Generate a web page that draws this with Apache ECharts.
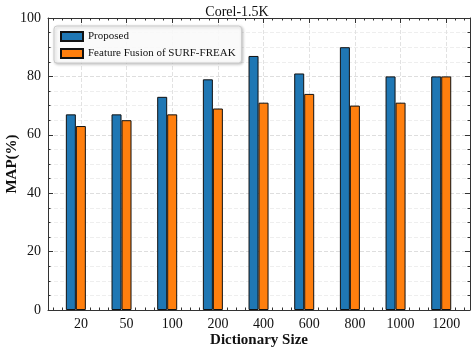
<!DOCTYPE html>
<html><head><meta charset="utf-8">
<script src="https://cdn.jsdelivr.net/npm/echarts@6/dist/echarts.min.js"></script>
<style>html,body{margin:0;padding:0;background:#fff}#c{width:474px;height:348px}</style>
</head><body><div id="c"></div>
<script>
const categories = ['20','50','100','200','400','600','800','1000','1200'];
const proposed = [67, 67, 73, 79, 87, 81, 90, 80, 80];
const surfFreak = [63, 65, 67, 69, 71, 74, 70, 71, 80];
const yTicks = [0, 20, 40, 60, 80, 100];

const FONT = 'Liberation Serif';
const X_MIN = -0.72, X_MAX = 8.52, SHIFT = -0.11;
const majors = categories.map((c, i) => i);
const minors = [];
for (let v = -0.6; v <= 8.5; v += 0.2) minors.push(+v.toFixed(2));

const chart = echarts.init(document.getElementById('c'));
const lineColor = '#333';
function xAx(pos, vals, len, labels, line) {
  return {
    type: 'value', position: pos, min: X_MIN, max: X_MAX,
    axisLine: {show: line, lineStyle: {color: lineColor, width: 1}, onZero: false},
    axisTick: {show: true, inside: true, length: len, customValues: vals, lineStyle: {color: lineColor}},
    axisLabel: labels ? {show: true, customValues: majors, formatter: v => categories[Math.round(v)], fontFamily: FONT, fontSize: 14, color: '#111', margin: 7} : {show: false},
    splitLine: labels ? {show: true, lineStyle: {color: '#e2e2e2', type: 'dashed'}} : {show: false},
    name: labels ? 'Dictionary Size' : '',
    nameLocation: 'middle', nameGap: 23, nameMoveOverlap: false,
    nameTextStyle: {fontFamily: FONT, fontSize: 15, fontWeight: 'bold', color: '#111'}
  };
}
function yAx(pos, labels) {
  return {
    type: 'value', position: pos, min: 0, max: 100, interval: 20,
    axisLine: {show: true, onZero: false, lineStyle: {color: lineColor}},
    axisTick: {show: true, inside: true, length: 5, lineStyle: {color: lineColor}},
    minorTick: {show: true, splitNumber: 4, length: 2.5, lineStyle: {color: lineColor}},
    axisLabel: {show: labels, fontFamily: FONT, fontSize: 14, color: '#111', margin: 7, customValues: yTicks},
    splitLine: {show: labels, lineStyle: {color: '#dedede', type: 'dashed'}},
    minorSplitLine: {show: labels, lineStyle: {color: '#eeeeee', type: 'dashed'}},
    name: labels ? 'MAP(%)' : '', nameLocation: 'middle', nameGap: 28, nameMoveOverlap: false,
    nameTextStyle: {fontFamily: FONT, fontSize: 15, fontWeight: 'bold', color: '#111'}
  };
}
chart.setOption({
  animation: false,
  backgroundColor: '#fff',
  title: {text: 'Corel-1.5K', left: 'center', top: 0, textStyle: {fontFamily: FONT, fontSize: 14, fontWeight: 'normal', color: '#111'}},
  grid: {left: 48, right: 4, top: 18, bottom: 38, containLabel: false, outerBoundsMode: 'none'},
  legend: {
    show: true, left: 54, top: 26, orient: 'vertical', itemWidth: 22, itemHeight: 9, itemGap: 6,
    padding: [5, 6, 4, 6], borderColor: '#ccc', borderWidth: 1, borderRadius: 3,
    backgroundColor: 'rgba(255,255,255,0.9)', shadowColor: 'rgba(0,0,0,0.25)', shadowBlur: 3, shadowOffsetX: 1, shadowOffsetY: 1,
    textStyle: {fontFamily: FONT, fontSize: 11, color: '#111'},
    data: [{name: 'Proposed', icon: 'rect'}, {name: 'Feature Fusion of SURF-FREAK', icon: 'rect'}]
  },
  xAxis: [xAx('bottom', majors, 5, true, true), xAx('bottom', minors, 2.5, false, false), xAx('top', majors, 5, false, true), xAx('top', minors, 2.5, false, false)],
  yAxis: [yAx('left', true), yAx('right', false)],
  series: [
    {name: 'Proposed', type: 'bar', xAxisIndex: 0, yAxisIndex: 0, barWidth: 10, barGap: '0%',
     itemStyle: {color: '#1f77b4', borderColor: '#111', borderWidth: 1},
     data: proposed.map((v, i) => [i + SHIFT, v])},
    {name: 'Feature Fusion of SURF-FREAK', type: 'bar', xAxisIndex: 0, yAxisIndex: 0, barWidth: 10, barGap: '0%',
     itemStyle: {color: '#ff7f0e', borderColor: '#111', borderWidth: 1},
     data: surfFreak.map((v, i) => [i + SHIFT, v])}
  ]
});
</script></body></html>
